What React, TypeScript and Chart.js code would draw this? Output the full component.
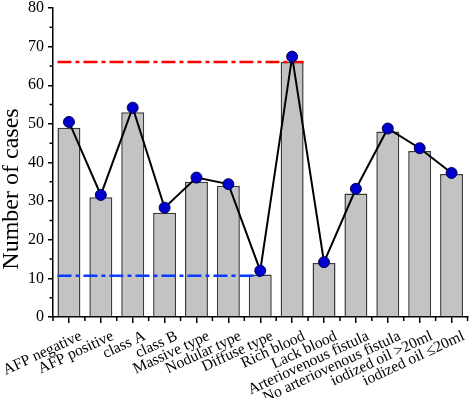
import React, { useEffect, useRef } from "react";
import { Chart, registerables } from "chart.js";

Chart.register(...registerables);

const categories = [
  "AFP negative",
  "AFP positive",
  "class A",
  "class B",
  "Massive type",
  "Nodular type",
  "Diffuse type",
  "Rich blood",
  "Lack blood",
  "Arteriovenous fistula",
  "No arteriovenous fistula",
  "iodized oil >20ml",
  "iodized oil \u226420ml",
];

const barValues = [49, 31, 53, 27, 35, 34, 11, 66, 14, 32, 48, 43, 37];
const pointValues = [50.5, 31.6, 54.2, 28.3, 36.1, 34.4, 12, 67.4, 14.2, 33.2, 48.8, 43.7, 37.3];

const redLineValue = 66;
const redLineEndIndex = 7;
const blueLineValue = 10.7;
const blueLineEndIndex = 6;

const yTicks = [0, 10, 20, 30, 40, 50, 60, 70, 80];
const yTitle = "Number of cases";

const FONT = "'Liberation Serif', 'Times New Roman', serif";

export default function App() {
  const ref = useRef<HTMLCanvasElement | null>(null);

  useEffect(() => {
    document.body.style.margin = "0";
    const canvas = ref.current;
    if (!canvas) return;

    const barPct = 0.72;

    const extras = {
      id: "extras",
      afterDatasetDraw(chart: any, args: any) {
        if (args.index !== 0) return;
        const ctx = chart.ctx;
        const x = chart.scales.x;
        const y = chart.scales.y;
        const half = (x.getPixelForValue(1) - x.getPixelForValue(0)) * barPct / 2;
        ctx.save();
        ctx.lineWidth = 2.5;
        ctx.setLineDash([14, 4, 4, 4]);
        ctx.strokeStyle = "#ff0000";
        ctx.beginPath();
        const ry = y.getPixelForValue(redLineValue);
        ctx.moveTo(x.getPixelForValue(0) - half, ry);
        ctx.lineTo(x.getPixelForValue(redLineEndIndex) + half, ry);
        ctx.stroke();
        ctx.strokeStyle = "#0a3cff";
        ctx.beginPath();
        const by = y.getPixelForValue(blueLineValue);
        ctx.moveTo(x.getPixelForValue(0) - half, by);
        ctx.lineTo(x.getPixelForValue(blueLineEndIndex) + 2, by);
        ctx.stroke();
        ctx.restore();
      },
      afterDraw(chart: any) {
        const ctx = chart.ctx;
        const x = chart.scales.x;
        const y = chart.scales.y;
        const area = chart.chartArea;
        ctx.save();
        ctx.strokeStyle = "#000";
        ctx.lineWidth = 1.5;
        ctx.beginPath();
        for (let i = 0; i <= categories.length; i++) {
          const px = x.getPixelForValue(i - 0.5);
          ctx.moveTo(px, area.bottom);
          ctx.lineTo(px, area.bottom + 4);
        }
        for (let i = 0; i < yTicks.length - 1; i++) {
          const py = y.getPixelForValue(yTicks[i] + 5);
          ctx.moveTo(area.left, py);
          ctx.lineTo(area.left - 3.5, py);
        }
        ctx.stroke();
        ctx.fillStyle = "#000";
        ctx.font = `24px ${FONT}`;
        ctx.textAlign = "center";
        ctx.textBaseline = "alphabetic";
        ctx.translate(18, 189);
        ctx.rotate(-Math.PI / 2);
        ctx.fillText(yTitle, 0, 0);
        ctx.restore();
      },
    };

    const chart = new Chart(canvas, {
      type: "bar",
      data: {
        labels: categories,
        datasets: [
          {
            type: "bar",
            data: barValues,
            backgroundColor: "#c3c3c3",
            borderColor: "#3a3a3a",
            borderWidth: 1.5,
            categoryPercentage: 1,
            barPercentage: barPct,
            order: 2,
          },
          {
            type: "line",
            data: pointValues,
            borderColor: "#000",
            borderWidth: 2,
            pointRadius: 5.5,
            pointBackgroundColor: "#0000cc",
            pointBorderColor: "#000055",
            pointBorderWidth: 1,
            tension: 0,
            order: 1,
          } as any,
        ],
      },
      options: {
        animation: false,
        responsive: false,
        maintainAspectRatio: false,
        layout: { padding: { top: 0, right: 2, left: 0, bottom: 0 } },
        plugins: {
          legend: { display: false },
          tooltip: { enabled: false },
        },
        scales: {
          x: {
            offset: true,
            grid: {
              display: true,
              drawOnChartArea: false,
              drawTicks: true,
              tickLength: 6,
              color: "#000",
              lineWidth: 1.5,
              offset: false,
            },
            border: { display: true, color: "#000", width: 1.5 },
            ticks: {
              autoSkip: false,
              minRotation: 25,
              maxRotation: 25,
              color: "#000",
              padding: 4,
              labelOffset: 12,
              font: { family: FONT, size: 15.5 },
            },
            afterFit(scale: any) {
              scale.height = 81;
              scale.paddingLeft = 0;
              scale.paddingRight = 0;
            },
          },
          y: {
            min: 0,
            max: 80,
            grid: {
              display: true,
              drawOnChartArea: false,
              drawTicks: true,
              tickLength: 5,
              color: "#000",
              lineWidth: 1.5,
            },
            border: { display: true, color: "#000", width: 1.5 },
            ticks: {
              stepSize: 10,
              color: "#000",
              padding: 4,
              font: { family: FONT, size: 16 },
            },
            afterFit(scale: any) {
              scale.width = 53;
              scale.paddingTop = 8;
              scale.paddingBottom = 0;
            },
          },
        },
      },
      plugins: [extras],
    });

    return () => chart.destroy();
  }, []);

  return (
    <div style={{ position: "absolute", left: 0, top: 0, width: 474, height: 398 }}>
      <canvas ref={ref} width={474} height={398} style={{ width: 474, height: 398 }} />
    </div>
  );
}
